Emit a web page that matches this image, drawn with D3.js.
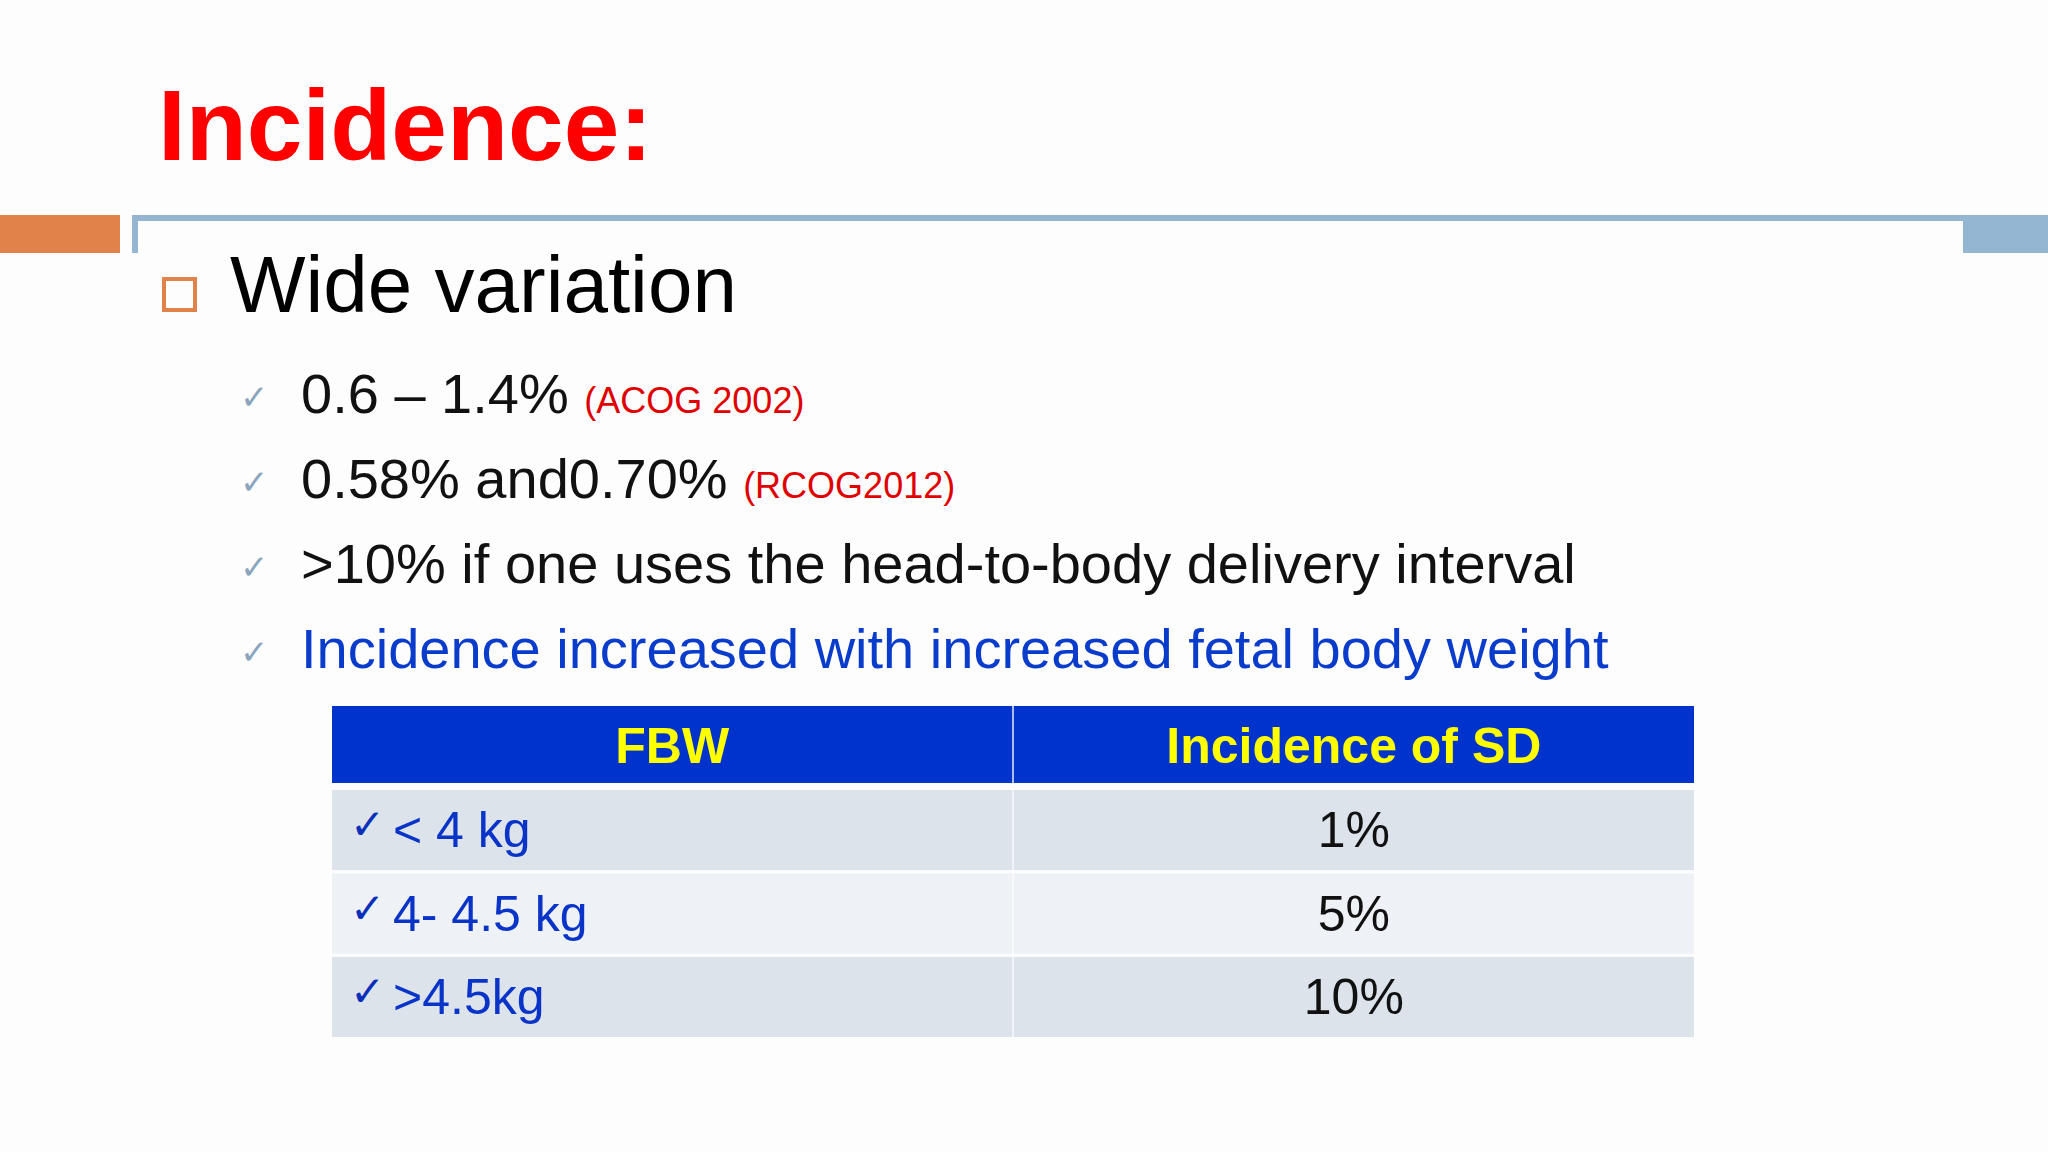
<!DOCTYPE html><html><head><meta charset="utf-8">
<script src="https://cdn.jsdelivr.net/npm/d3@7"></script>
<style>body{margin:0;background:#fff}svg{display:block}</style></head><body>
<script>
const title = "Incidence:";
const heading = "Wide variation";
const bullets = [
  {main:"0.6 – 1.4% ", note:"(ACOG 2002)", color:"#111"},
  {main:"0.58%  and0.70% ", note:"(RCOG2012)", color:"#111"},
  {main:" >10% if one uses the head-to-body delivery interval", note:"", color:"#111"},
  {main:"Incidence increased with increased fetal body weight", note:"", color:"#0a3ccc"}
];
const headers = ["FBW","Incidence of SD"];
const fbw = ["< 4 kg","4- 4.5 kg",">4.5kg"];
const incidence = ["1%","5%","10%"];

const W=2048,H=1152;
const svg=d3.select("body").append("svg").attr("width",W).attr("height",H);
svg.append("rect").attr("width",W).attr("height",H).attr("fill","#fdfdfd");
svg.append("text").attr("x",158).attr("y",160).attr("font-family","Liberation Sans, Arial").attr("font-weight","bold").attr("font-size",100).attr("fill","#ff0000").text(title);
svg.append("rect").attr("x",0).attr("y",215).attr("width",120).attr("height",38).attr("fill","#e0824a");
svg.append("rect").attr("x",132).attr("y",215).attr("width",1916).attr("height",6).attr("fill","#94b6d2");
svg.append("rect").attr("x",132).attr("y",215).attr("width",6).attr("height",38).attr("fill","#94b6d2");
svg.append("rect").attr("x",1963).attr("y",215).attr("width",85).attr("height",38).attr("fill","#94b6d2");
svg.append("rect").attr("x",164).attr("y",279).attr("width",31).attr("height",31).attr("fill","none").attr("stroke","#e0824a").attr("stroke-width",4);
svg.append("text").attr("x",230).attr("y",312).attr("font-family","Liberation Sans, Arial").attr("font-size",80).attr("fill","#000").text(heading);

const by=d3.scaleBand().domain(d3.range(bullets.length)).range([350,690]);
bullets.forEach((b,i)=>{
  const y=by(i)+by.bandwidth()/2+20;
  svg.append("text").attr("x",240).attr("y",y-4).attr("font-family","DejaVu Sans").attr("font-size",34).attr("fill","#8aa5bd").text("✓");
  const t=svg.append("text").attr("x",301).attr("y",y).attr("font-family","Liberation Sans, Arial").attr("font-size",56).attr("fill",b.color);
  t.append("tspan").text(b.main);
  if(b.note) t.append("tspan").attr("font-size",36).attr("fill","#e00000").text(b.note);
});

const cx=d3.scaleBand().domain([0,1]).range([332,1694]).paddingInner(0.002);
// header
headers.forEach((h,j)=>{
  svg.append("rect").attr("x",cx(j)).attr("y",706).attr("width",cx.bandwidth()).attr("height",77).attr("fill","#0033cc");
  svg.append("text").attr("x",cx(j)+cx.bandwidth()/2).attr("y",763).attr("text-anchor","middle").attr("font-family","Liberation Sans, Arial").attr("font-weight","bold").attr("font-size",50).attr("fill","#ffff00").text(h);
});
const ry=d3.scaleBand().domain(d3.range(fbw.length)).range([790,1037]).paddingInner(0.04);
fbw.forEach((f,i)=>{
  const fill=i%2?"#eef2f6":"#dce3eb";
  [0,1].forEach(j=>svg.append("rect").attr("x",cx(j)).attr("y",ry(i)).attr("width",cx.bandwidth()).attr("height",ry.bandwidth()).attr("fill",fill));
  const y=ry(i)+ry.bandwidth()/2+17;
  svg.append("text").attr("x",350).attr("y",y-8).attr("font-family","DejaVu Serif").attr("font-size",42).attr("fill","#0a2fb8").text("✓");
  svg.append("text").attr("x",393).attr("y",y).attr("font-family","Liberation Sans Narrow, Liberation Sans, Arial").attr("font-size",50).attr("fill","#0a34c8").text(f);
  svg.append("text").attr("x",cx(1)+cx.bandwidth()/2).attr("y",y).attr("text-anchor","middle").attr("font-family","Liberation Sans, Arial").attr("font-size",50).attr("fill","#111").text(incidence[i]);
});
</script></body></html>
